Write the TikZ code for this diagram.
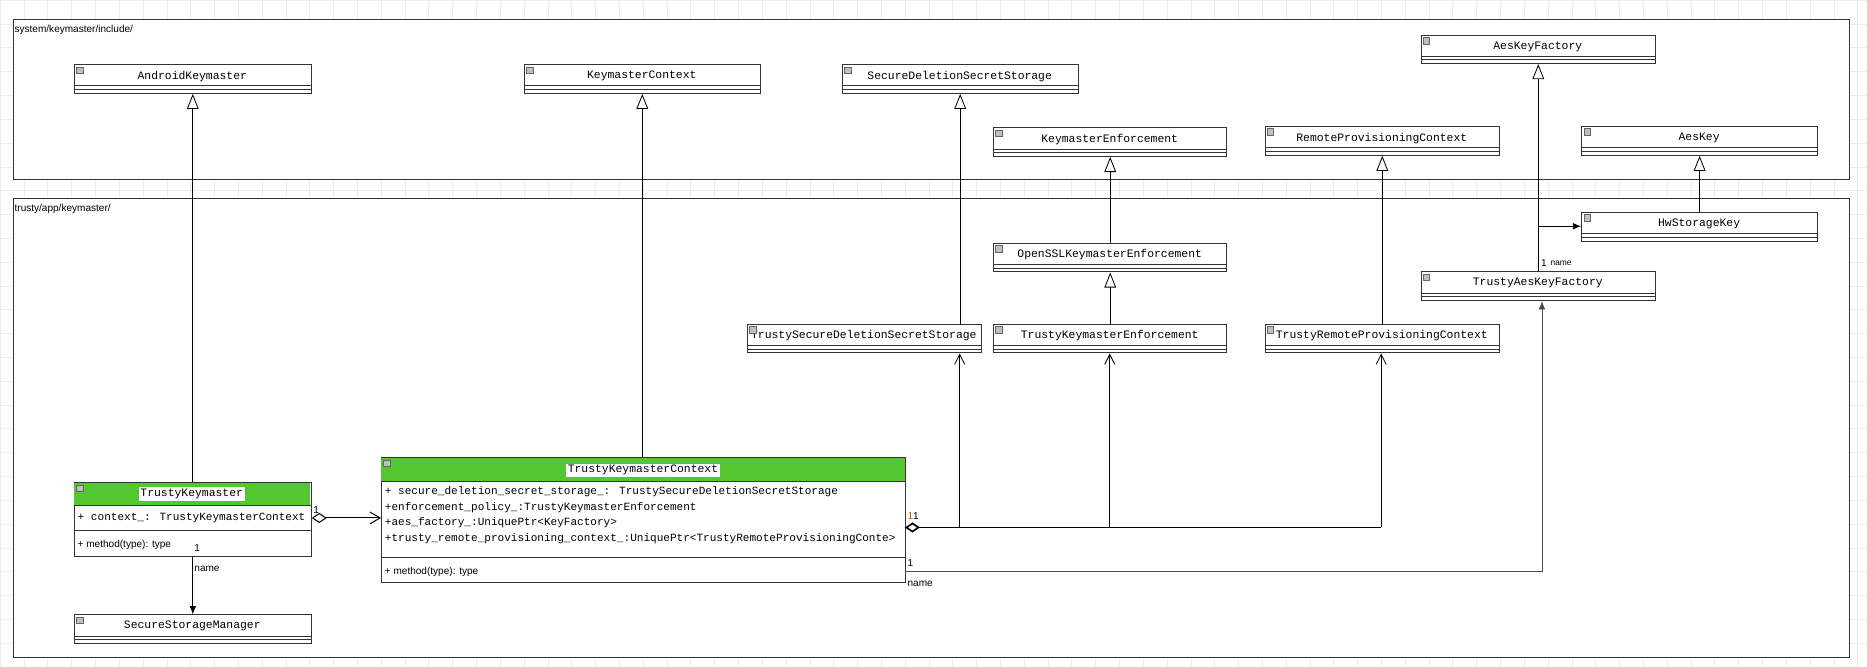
\documentclass[tikz,border=0pt]{standalone}
\usepackage{fontspec}
\setmainfont{Liberation Sans}
\newfontfamily\cmono{Liberation Mono}
\usetikzlibrary{arrows.meta}
\definecolor{hdrgreen}{HTML}{52C72F}
\newcommand{\ucls}[5]{%
  \node[box,minimum width=#4*0.025cm,minimum height=24*0.025cm] (#1) at (#2,#3) {};
  \node[ctext] (#1t) at (#2+#4/2,#3+10) {#5};
  \draw[black!80,line width=0.4pt] (#2,#3+18) -- (#2+#4,#3+18) (#2,#3+21) -- (#2+#4,#3+21);
  \node[mini] (#1m) at (#2+5,#3+5) {};
}
\begin{document}
\begin{tikzpicture}[x=0.025cm,y=-0.025cm,
  box/.style={draw=black!80,fill=white,line width=0.6pt,inner sep=0,anchor=north west},
  mini/.style={draw=black!60,fill=black!25,inner sep=0,minimum size=4pt},
  ctext/.style={font=\cmono\fontsize{6.8}{8}\selectfont,inner sep=1pt},
  atext/.style={font=\cmono\fontsize{6.6}{8}\selectfont,inner sep=0,anchor=west},
  stext/.style={font=\fontsize{6}{7}\selectfont,inner sep=0,anchor=west},
  pkg/.style={draw=black!80,line width=0.7pt,inner sep=0,anchor=north west},
  gen/.style={-{Triangle[open,length=9pt,width=7pt]},line width=0.5pt},
  dep/.style={-{Straight Barb[length=6pt,width=6pt]},line width=0.5pt},
  nav/.style={-{Latex[length=5pt,width=4pt]},line width=0.5pt},
  agg/.style={{Diamond[open,length=9pt,width=6pt]}-{Straight Barb[length=6pt,width=7pt]},line width=0.6pt},
  aggl/.style={{Diamond[open,length=9pt,width=6pt]}-,line width=1pt}]
\useasboundingbox (0,0) rectangle (1568,560);
\fill[white] (0,0) rectangle (1568,560);
\foreach \i in {0,20,...,1560} \draw[black!7,line width=0.2pt] (\i,0) -- (\i,560);
\foreach \j in {0,20,...,560} \draw[black!7,line width=0.2pt] (0,\j) -- (1568,\j);
% packages
\node[pkg,fill=white,minimum width=1542*0.025cm,minimum height=134*0.025cm] (p1) at (11,16) {};
\node[stext,anchor=north west] (p1l) at (12,21) {system/keymaster/include/};
\node[pkg,fill=white,minimum width=1542*0.025cm,minimum height=386*0.025cm] (p2) at (11,166) {};
\node[stext,anchor=north west] (p2l) at (12,171) {trusty/app/keymaster/};
% simple classes
\ucls{ak}{62}{54}{199}{AndroidKeymaster}
\ucls{kc}{440}{54}{198}{KeymasterContext}
\ucls{sd}{707}{54}{198}{SecureDeletionSecretStorage}
\ucls{akf}{1193}{29}{197}{AesKeyFactory}
\ucls{ke}{834}{107}{196}{KeymasterEnforcement}
\ucls{rp}{1062}{106}{197}{RemoteProvisioningContext}
\ucls{aes}{1328}{106}{198}{AesKey}
\ucls{hw}{1328}{178}{198}{HwStorageKey}
\ucls{ossl}{834}{204}{196}{OpenSSLKeymasterEnforcement}
\ucls{takf}{1193}{228}{197}{TrustyAesKeyFactory}
\ucls{tsd}{627}{272}{197}{TrustySecureDeletionSecretStorage}
\ucls{tke}{834}{272}{196}{TrustyKeymasterEnforcement}
\ucls{trp}{1062}{272}{197}{TrustyRemoteProvisioningContext}
\ucls{ssm}{62}{516}{199}{SecureStorageManager}
% TrustyKeymaster
\node[box,minimum width=199*0.025cm,minimum height=62*0.025cm] (tk) at (62,405) {};
\fill[hdrgreen] (62.3,405.3) rectangle (260.7,424);
\draw[black!80,line width=0.4pt] (62,424) -- (261,424) (62,445) -- (261,445);
\node[ctext,fill=white] (tkt) at (161,415) {TrustyKeymaster};
\node[mini] (tkm) at (67,410) {};
\node[atext] (tka) at (65,435) {+ context\_: TrustyKeymasterContext};
\node[stext] (tkb) at (65,458) {+ method(type): type};
% TrustyKeymasterContext
\node[box,minimum width=440*0.025cm,minimum height=105*0.025cm] (tkc) at (320,384) {};
\fill[hdrgreen] (320.3,384.3) rectangle (759.7,404);
\draw[black!80,line width=0.4pt] (320,404) -- (760,404) (320,468) -- (760,468);
\node[ctext,fill=white] (tkct) at (540,395) {TrustyKeymasterContext};
\node[mini] (tkcm) at (325,389) {};
\node[atext] (a1) at (323,413) {+ secure\_deletion\_secret\_storage\_: TrustySecureDeletionSecretStorage};
\node[atext] (a2) at (323,426) {+enforcement\_policy\_:TrustyKeymasterEnforcement};
\node[atext] (a3) at (323,439) {+aes\_factory\_:UniquePtr<KeyFactory>};
\node[atext] (a4) at (323,452) {+trusty\_remote\_provisioning\_context\_:UniquePtr<TrustyRemoteProvisioningConte>};
\node[stext] (tkcb) at (323,480) {+ method(type): type};
% generalizations
\draw[gen] (tk.north -| ak.south) -- (ak.south);
\draw[gen] (tkc.north -| kc.south) -- (kc.south);
\draw[gen] (tsd.north -| sd.south) -- (sd.south);
\draw[gen] (ossl.north) -- (ke.south);
\draw[gen] (tke.north) -- (ossl.south);
\draw[gen] (trp.north) -- (rp.south);
\draw[gen] (takf.north) -- (akf.south);
\draw[gen] (hw.north) -- (aes.south);
\coordinate (j1) at (1292,190);
\draw[nav] (j1) -- (hw.west |- j1);
% TrustyKeymaster associations
\draw[agg] (tk.east |- tka) -- (tkc.west |- tka);
\node[stext] (l1) at (263,428) {1};
\draw[nav] (tk.south) -- (ssm.north);
\node[stext] (l2) at (163,460) {1};
\node[stext] (l3) at (163,478) {name};
% TrustyKeymasterContext aggregations
\coordinate (c1) at (806,443);
\coordinate (c2) at (932,443);
\coordinate (c3) at (1160,443);
\draw[aggl] (760,443) -- (c3);
\draw[dep] (c1) -- (c1 |- tsd.south);
\draw[dep] (c2) -- (c2 |- tke.south);
\draw[dep] (c3) -- (c3 |- trp.south);
\node[stext] (l4) at (762,433) {{\color{orange!70!black}1}1};
\coordinate (c4) at (1295,480);
\draw[nav,black!70] (760,480) -- (c4) -- (c4 |- takf.south);
\node[stext] (l5) at (762,473) {1};
\node[stext] (l6) at (762,490) {name};
\node[stext] (l7) at (1294,221) {1};
\node[stext,font=\fontsize{5}{6}\selectfont] (l8) at (1302,221) {name};
\end{tikzpicture}
\end{document}
